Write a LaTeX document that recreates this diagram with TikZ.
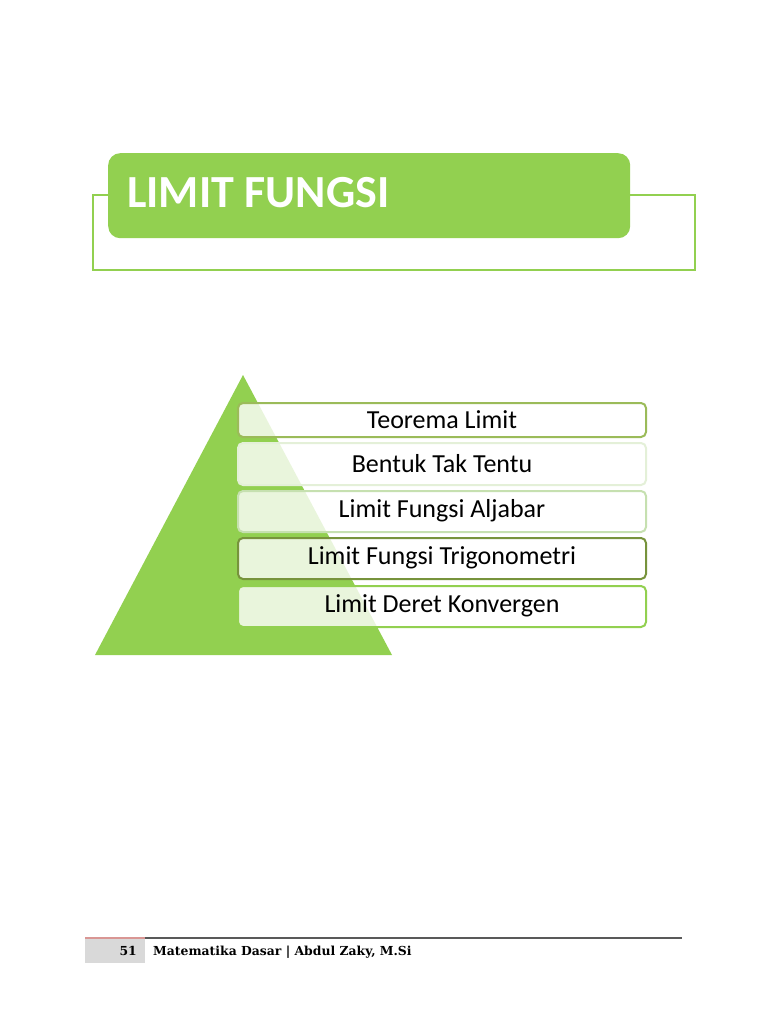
\documentclass[tikz,border=0pt]{standalone}
\usepackage{fontspec}
\setmainfont{Carlito}
\newfontfamily\footfont{DejaVu Serif}
\definecolor{lgreen}{HTML}{92D050}
\definecolor{b1}{HTML}{9BBB59}
\definecolor{b2}{HTML}{E4F0D8}
\definecolor{b3}{HTML}{C6E0B0}
\definecolor{b4}{HTML}{77933C}
\definecolor{b5}{HTML}{92D050}
\definecolor{footgray}{HTML}{D9D9D9}
\definecolor{footline}{HTML}{595959}
\definecolor{footred}{HTML}{C0504D}
\begin{document}
\begin{tikzpicture}[x=1pt,y=-1pt,
  levelbox/.style={rounded corners=5pt,line width=2pt,fill=white,fill opacity=0.8,text opacity=1},
  leveltext/.style={font=\fontsize{26}{30}\selectfont,text=black}]
\useasboundingbox[fill=white] (0,0) rectangle (768,1024);
% title bracket
\draw[lgreen,line width=2pt] (108,195) -- (93,195) -- (93,270) -- (695,270) -- (695,195) -- (630,195);
% title box
\node[draw=none,fill=lgreen,rounded corners=12pt,minimum width=522pt,minimum height=85pt,anchor=north west,inner sep=0pt] (title) at (108,153) {};
\node[anchor=base west,text=white,font=\fontsize{46}{50}\selectfont\bfseries,inner sep=0pt] (titletext) at (127,208) {LIMIT FUNGSI};
% pyramid
\fill[lgreen] (243,375) coordinate (apex) -- (392,655) coordinate (br) -- (95,655) coordinate (bl) -- cycle;
% level boxes
\draw[levelbox,draw=b1] (238,403) rectangle (646,437);
\node[leveltext] (l1) at (442,420) {Teorema Limit};
\draw[levelbox,draw=b2] (238,443) rectangle (646,485);
\node[leveltext] (l2) at (442,464) {Bentuk Tak Tentu};
\draw[levelbox,draw=b3] (238,491) rectangle (646,532);
\node[leveltext] (l3) at (442,511) {Limit Fungsi Aljabar};
\draw[levelbox,draw=b4] (238,538) rectangle (646,579);
\node[leveltext] (l4) at (442,558) {Limit Fungsi Trigonometri};
\draw[levelbox,draw=b5] (238,586) rectangle (646,627);
\node[leveltext] (l5) at (442,606) {Limit Deret Konvergen};
% footer
\fill[footgray] (85,938) rectangle (145,963);
\draw[footline,line width=1.2pt] (145,938) -- (682,938);
\draw[footred!60,line width=1.2pt] (85,938) -- (145,938);
\node[anchor=base east,font=\footfont\bfseries\fontsize{12.4}{14}\selectfont,inner sep=0pt] (pg) at (137,955) {51};
\node[anchor=base west,font=\footfont\bfseries\fontsize{12.4}{14}\selectfont,inner sep=0pt] (foot) at (153,955) {Matematika Dasar | Abdul Zaky, M.Si};
\end{tikzpicture}
\end{document}
